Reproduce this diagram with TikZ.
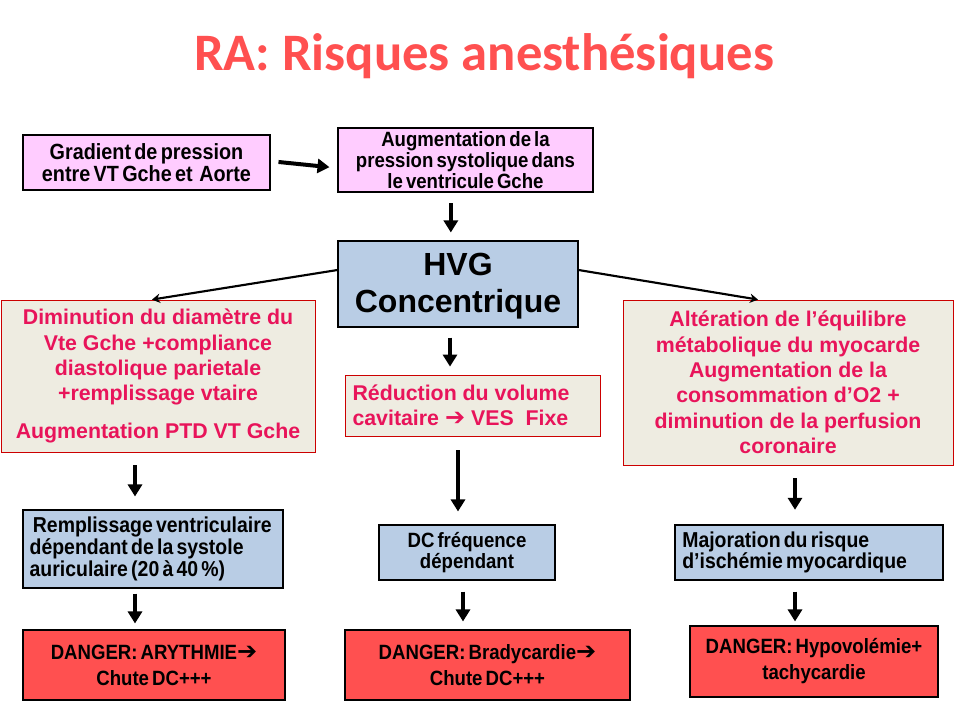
\documentclass[tikz,border=0pt]{standalone}
\usepackage{fontspec}
\setmainfont{Liberation Sans}
\newfontfamily\titlefont{Carlito}
\newfontfamily\symfont{DejaVu Sans}
\newfontfamily\narrowfont{Liberation Sans}[FakeStretch=0.9, WordSpace=0.6]
\usetikzlibrary{arrows.meta}
\definecolor{titlered}{RGB}{255,80,80}
\definecolor{boxpink}{RGB}{255,204,255}
\definecolor{boxblue}{RGB}{185,205,229}
\definecolor{boxbeige}{RGB}{238,236,225}
\definecolor{boxred}{RGB}{255,80,80}
\definecolor{textred}{RGB}{232,20,90}
\newcommand{\tofix}{{\symfont\fontsize{18}{18}\selectfont\char"2794}}
\tikzset{
  every node/.style={font=\bfseries},
  causebox/.style={draw=black, line width=0.8pt, fill=boxpink, align=center, inner sep=2pt,
    font=\narrowfont\bfseries\fontsize{15.5}{13.5}\selectfont},
  hvgbox/.style={draw=black, line width=0.8pt, fill=boxblue, align=center,
    font=\bfseries\fontsize{24}{28}\selectfont},
  effectbox/.style={draw=red!80!black, line width=0.6pt, fill=boxbeige, text=textred, align=center,
    font=\bfseries\fontsize{16}{19}\selectfont},
  infobox/.style={draw=black, line width=0.8pt, fill=boxblue, align=flush left, inner ysep=3pt, inner xsep=5pt,
    font=\narrowfont\bfseries\fontsize{16.2}{16.25}\selectfont},
  dangerbox/.style={draw=black, line width=0.8pt, fill=boxred, align=center,
    font=\narrowfont\bfseries\fontsize{15.5}{19.5}\selectfont},
  bigarrow/.style={line width=3pt, -{Triangle[width=10.5pt,length=9pt]}},
  thinarrow/.style={line width=1.6pt, -{Stealth[width=7pt,length=6pt]}}
}
\begin{document}
\begin{tikzpicture}[x=0.75pt, y=-0.75pt]
\useasboundingbox (0,0) rectangle (960,720);
% title
\node[font=\titlefont\bfseries\fontsize{39.5}{44}\selectfont, text=titlered] (title) at (484,56) {RA: Risques anesthésiques};
% top row
\node[causebox, font=\narrowfont\bfseries\fontsize{16.5}{16.5}\selectfont,
  minimum width=185.25pt, minimum height=41.25pt] (grad) at (146.5,162.5)
  {Gradient de pression\\entre VT Gche et \ Aorte};
\node[causebox, minimum width=191.25pt, minimum height=48pt] (augm) at (465.5,160)
  {Augmentation de la\\pression systolique dans\\le ventricule Gche};
\node[hvgbox, minimum width=180pt, minimum height=64.5pt] (hvg) at (458,284)
  {\rule{0pt}{20pt}HVG\\Concentrique};
% second row
\node[effectbox, minimum width=235.5pt, minimum height=114pt] (diam) at (158,376)
  {Diminution du diamètre du\\Vte Gche +compliance\\diastolique parietale\\+remplissage vtaire\\[9pt]Augmentation PTD VT Gche};
\node[effectbox, align=flush left, minimum width=191.25pt, minimum height=45.75pt, text width=180pt] (redu) at (472.5,405.5)
  {Réduction du volume\\cavitaire \tofix{} VES \ Fixe};
\node[effectbox, minimum width=247.5pt, minimum height=123.75pt] (alte) at (788,382.5)
  {Altération de l’équilibre\\métabolique du myocarde\\Augmentation de la\\consommation d’O2 +\\diminution de la perfusion\\coronaire};
% third row
\node[infobox, minimum width=195pt, minimum height=58.5pt, text width=185pt] (remp) at (153,549)
  {\ Remplissage ventriculaire\\dépendant de la systole\\auriculaire (20 à 40 \%)};
\node[infobox, align=center, font=\narrowfont\bfseries\fontsize{15.5}{16.25}\selectfont,
  minimum width=132pt, minimum height=41.25pt] (freq) at (467,552.5)
  {DC fréquence\\dépendant};
\node[infobox, minimum width=201pt, minimum height=41.25pt, text width=190pt] (majo) at (809,552.5)
  {Majoration du risque\\d’ischémie myocardique};
% dangers
\node[dangerbox, minimum width=196.5pt, minimum height=52.5pt] (dang1) at (154,665)
  {DANGER: ARYTHMIE\tofix\\Chute DC+++};
\node[dangerbox, minimum width=213.75pt, minimum height=52.5pt] (dang2) at (487.5,665)
  {DANGER: Bradycardie\tofix\\Chute DC+++};
\node[dangerbox, minimum width=186pt, minimum height=53.25pt] (dang3) at (814,661.5)
  {DANGER: Hypovolémie+\\tachycardie};
% arrows
\draw[bigarrow, shorten <=6pt, shorten >=6pt] ([yshift=1pt]grad.east) -- ([yshift=-6pt]augm.west);
\draw[bigarrow, shorten <=8pt, shorten >=6pt] ([xshift=-11pt]augm.south) -- ([xshift=-11pt]augm.south |- hvg.north);
\draw[thinarrow] ([yshift=10.5pt]hvg.west) -- ([xshift=-4.5pt]diam.north);
\draw[thinarrow] ([yshift=10.5pt]hvg.east) -- ([xshift=-22.5pt]alte.north);
\draw[bigarrow, shorten <=7.5pt, shorten >=6pt] ([xshift=-6pt]hvg.south) -- ([xshift=-6pt]hvg.south |- redu.north);
\draw[bigarrow, shorten <=9.75pt, shorten >=9.75pt] ([xshift=-13.5pt]remp.north |- diam.south) -- ([xshift=-13.5pt]remp.north);
\draw[bigarrow, shorten <=10.5pt, shorten >=9.75pt] ([xshift=-6.75pt]freq.north |- redu.south) -- ([xshift=-6.75pt]freq.north);
\draw[bigarrow, shorten <=9.75pt, shorten >=11pt] ([xshift=-10.5pt]majo.north |- alte.south) -- ([xshift=-10.5pt]majo.north);
\draw[bigarrow, shorten <=3.75pt, shorten >=4.5pt] ([xshift=-13.5pt]remp.south) -- ([xshift=-13.5pt]remp.south |- dang1.north);
\draw[bigarrow, shorten <=8.25pt, shorten >=6pt] ([xshift=-3pt]freq.south) -- ([xshift=-3pt]freq.south |- dang2.north);
\draw[bigarrow, shorten <=8.25pt, shorten >=3pt] ([xshift=-10.5pt]majo.south) -- ([xshift=-10.5pt]majo.south |- dang3.north);
\end{tikzpicture}
\end{document}
